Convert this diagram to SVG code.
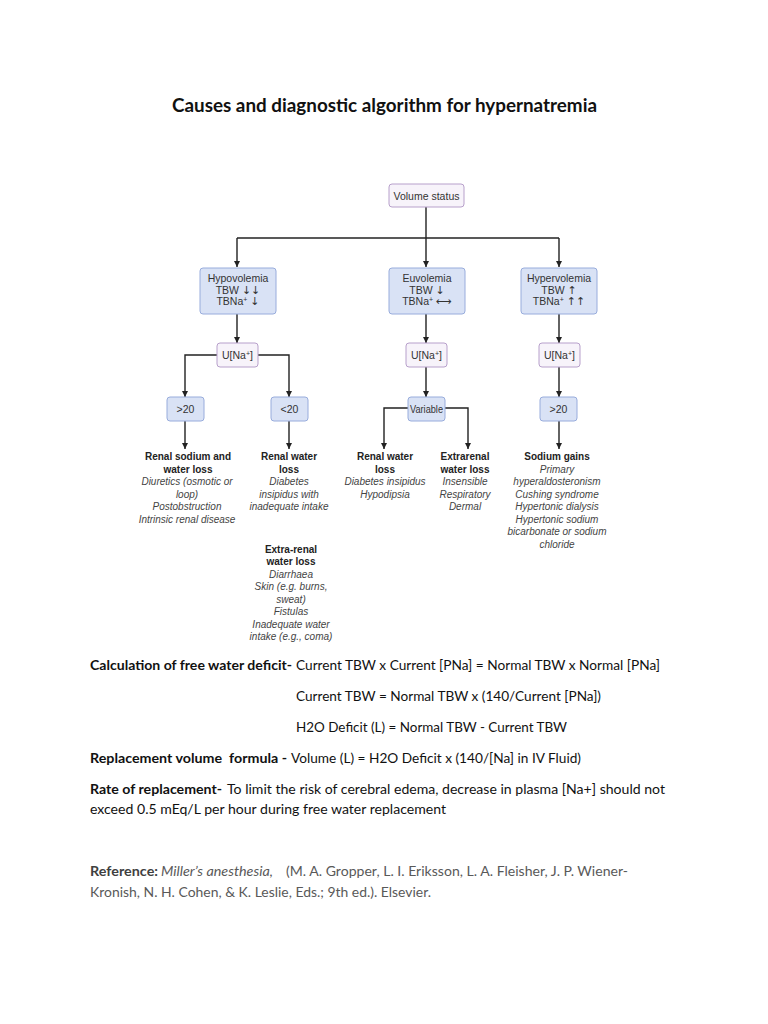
<svg xmlns="http://www.w3.org/2000/svg" width="768" height="1024" viewBox="0 0 768 1024">
<style>
.bg{fill:#ffffff}
.title{font-family:Lato,"Liberation Sans",sans-serif;font-weight:bold;font-size:18px;fill:#111}
.pbox{fill:#f7f3fa;stroke:#b7a0cb;stroke-width:1}
.bbox{fill:#d9e2f5;stroke:#98acdc;stroke-width:1}
.nt{font-family:"Liberation Sans",Arial,sans-serif;font-size:10.5px;fill:#333;text-anchor:middle}
.ar{font-family:"DejaVu Sans",sans-serif;font-size:11px}
.hd{font-family:"Liberation Sans",Arial,sans-serif;font-size:10px;font-weight:bold;fill:#222;text-anchor:middle}
.it{font-family:"Liberation Sans",Arial,sans-serif;font-size:10px;font-style:italic;fill:#444;text-anchor:middle}
.con{fill:none;stroke:#222;stroke-width:1.4}
.b{font-family:Lato,"Liberation Sans",sans-serif;font-size:14px;font-weight:bold;fill:#111}
.r{font-family:Lato,"Liberation Sans",sans-serif;font-size:14px;fill:#111}
.rb{font-family:Lato,"Liberation Sans",sans-serif;font-size:14px;font-weight:bold;fill:#404040}
.rg{font-family:Lato,"Liberation Sans",sans-serif;font-size:14px;fill:#595959}
.sup{font-size:7px}
</style>
<defs>
<marker id="ah" viewBox="0 0 10 10" refX="10" refY="5" markerWidth="6" markerHeight="6" markerUnits="userSpaceOnUse" orient="auto">
<path d="M0,0 L10,5 L0,10 z" fill="#222"/>
</marker>
</defs>
<rect class="bg" x="0" y="0" width="768" height="1024"/>
<text class="title" x="172" y="112" textLength="425" lengthAdjust="spacingAndGlyphs">Causes and diagnostic algorithm for hypernatremia</text>

<g id="connectors">
<path class="con" d="M426,207 V267" marker-end="url(#ah)"/>
<path class="con" d="M237,238 H559"/>
<path class="con" d="M237,238 V267" marker-end="url(#ah)"/>
<path class="con" d="M559,238 V267" marker-end="url(#ah)"/>
<path class="con" d="M237,314 V343" marker-end="url(#ah)"/>
<path class="con" d="M426,314 V343" marker-end="url(#ah)"/>
<path class="con" d="M559,314 V343" marker-end="url(#ah)"/>
<path class="con" d="M217,355 H185 V397" marker-end="url(#ah)"/>
<path class="con" d="M258,355 H289 V397" marker-end="url(#ah)"/>
<path class="con" d="M426,367 V397" marker-end="url(#ah)"/>
<path class="con" d="M559,367 V397" marker-end="url(#ah)"/>
<path class="con" d="M185,421 V449" marker-end="url(#ah)"/>
<path class="con" d="M289,421 V449" marker-end="url(#ah)"/>
<path class="con" d="M408,408 H384 V449" marker-end="url(#ah)"/>
<path class="con" d="M445,408 H468 V449" marker-end="url(#ah)"/>
<path class="con" d="M559,421 V449" marker-end="url(#ah)"/>
</g>

<g id="volume-status">
<rect class="pbox" x="389" y="184" width="75" height="23" rx="3"/>
<text class="nt" x="426.5" y="199.5">Volume status</text>
</g>

<g id="hypovolemia">
<rect class="bbox" x="200" y="268" width="76" height="46" rx="3"/>
<text class="nt" x="238" y="282">Hypovolemia</text>
<text class="nt" x="238" y="293.5">TBW <tspan class="ar">↓↓</tspan></text>
<text class="nt" x="238" y="305">TBNa<tspan class="sup" baseline-shift="super">+</tspan> <tspan class="ar">↓</tspan></text>
</g>
<g id="euvolemia">
<rect class="bbox" x="389" y="268" width="76" height="46" rx="3"/>
<text class="nt" x="427" y="282">Euvolemia</text>
<text class="nt" x="427" y="293.5">TBW <tspan class="ar">↓</tspan></text>
<text class="nt" x="427" y="305">TBNa<tspan class="sup" baseline-shift="super">+</tspan> <tspan class="ar" font-size="9px">⟷</tspan></text>
</g>
<g id="hypervolemia">
<rect class="bbox" x="521" y="268" width="76" height="46" rx="3"/>
<text class="nt" x="559" y="282">Hypervolemia</text>
<text class="nt" x="559" y="293.5">TBW <tspan class="ar">↑</tspan></text>
<text class="nt" x="559" y="305">TBNa<tspan class="sup" baseline-shift="super">+</tspan> <tspan class="ar">↑↑</tspan></text>
</g>

<g id="una-left">
<rect class="pbox" x="217" y="343" width="41" height="24" rx="3"/>
<text class="nt" x="237.5" y="359">U[Na<tspan class="sup" baseline-shift="super">+</tspan>]</text>
</g>
<g id="una-mid">
<rect class="pbox" x="406" y="343" width="41" height="24" rx="3"/>
<text class="nt" x="426.5" y="359">U[Na<tspan class="sup" baseline-shift="super">+</tspan>]</text>
</g>
<g id="una-right">
<rect class="pbox" x="539" y="343" width="41" height="24" rx="3"/>
<text class="nt" x="559.5" y="359">U[Na<tspan class="sup" baseline-shift="super">+</tspan>]</text>
</g>

<g id="gt20-left">
<rect class="bbox" x="167" y="397" width="37" height="24" rx="3"/>
<text class="nt" x="185.5" y="412.5">&gt;20</text>
</g>
<g id="lt20">
<rect class="bbox" x="271" y="397" width="37" height="24" rx="3"/>
<text class="nt" x="289.5" y="412.5">&lt;20</text>
</g>
<g id="variable">
<rect class="bbox" x="408" y="397" width="37" height="24" rx="3"/>
<text class="nt" x="426.5" y="412.5" textLength="33" lengthAdjust="spacingAndGlyphs">Variable</text>
</g>
<g id="gt20-right">
<rect class="bbox" x="540" y="397" width="37" height="24" rx="3"/>
<text class="nt" x="558.5" y="412.5">&gt;20</text>
</g>

<g id="renal-sodium-water-loss">
<text class="hd" x="188" y="460">Renal sodium and</text>
<text class="hd" x="188" y="472.5">water loss</text>
<text class="it" x="187" y="485">Diuretics (osmotic or</text>
<text class="it" x="187" y="497.5">loop)</text>
<text class="it" x="187" y="510">Postobstruction</text>
<text class="it" x="187" y="522.5">Intrinsic renal disease</text>
</g>
<g id="renal-water-loss-hypo">
<text class="hd" x="289" y="460">Renal water</text>
<text class="hd" x="289" y="472.5">loss</text>
<text class="it" x="289" y="485">Diabetes</text>
<text class="it" x="289" y="497.5">insipidus with</text>
<text class="it" x="289" y="510">inadequate intake</text>
</g>
<g id="extra-renal-water-loss">
<text class="hd" x="291" y="552.5">Extra-renal</text>
<text class="hd" x="291" y="565">water loss</text>
<text class="it" x="291" y="577.5">Diarrhaea</text>
<text class="it" x="291" y="590">Skin (e.g. burns,</text>
<text class="it" x="291" y="602.5">sweat)</text>
<text class="it" x="291" y="615">Fistulas</text>
<text class="it" x="291" y="627.5">Inadequate water</text>
<text class="it" x="291" y="640">intake (e.g., coma)</text>
</g>
<g id="renal-water-loss-eu">
<text class="hd" x="385" y="460">Renal water</text>
<text class="hd" x="385" y="472.5">loss</text>
<text class="it" x="385" y="485">Diabetes insipidus</text>
<text class="it" x="385" y="497.5">Hypodipsia</text>
</g>
<g id="extrarenal-water-loss">
<text class="hd" x="465" y="460">Extrarenal</text>
<text class="hd" x="465" y="472.5">water loss</text>
<text class="it" x="465" y="485">Insensible</text>
<text class="it" x="465" y="497.5">Respiratory</text>
<text class="it" x="465" y="510">Dermal</text>
</g>
<g id="sodium-gains">
<text class="hd" x="557" y="460">Sodium gains</text>
<text class="it" x="557" y="472.5">Primary</text>
<text class="it" x="557" y="485">hyperaldosteronism</text>
<text class="it" x="557" y="497.5">Cushing syndrome</text>
<text class="it" x="557" y="510">Hypertonic dialysis</text>
<text class="it" x="557" y="522.5">Hypertonic sodium</text>
<text class="it" x="557" y="535">bicarbonate or sodium</text>
<text class="it" x="557" y="547.5">chloride</text>
</g>

<g id="notes">
<text class="b" x="90" y="670" textLength="202" lengthAdjust="spacingAndGlyphs">Calculation of free water deficit-</text>
<text class="r" x="296" y="670" textLength="364" lengthAdjust="spacingAndGlyphs">Current TBW x Current [PNa] = Normal TBW x Normal [PNa]</text>
<text class="r" x="296" y="701" textLength="305" lengthAdjust="spacingAndGlyphs">Current TBW = Normal TBW x (140/Current [PNa])</text>
<text class="r" x="296" y="732" textLength="271" lengthAdjust="spacingAndGlyphs">H2O Deficit (L) = Normal TBW - Current TBW</text>
<text class="b" x="90" y="763" textLength="197" lengthAdjust="spacingAndGlyphs" xml:space="preserve">Replacement volume  formula -</text>
<text class="r" x="291" y="763" textLength="290" lengthAdjust="spacingAndGlyphs">Volume (L) = H2O Deficit x (140/[Na] in IV Fluid)</text>
<text class="b" x="90" y="794" textLength="132" lengthAdjust="spacingAndGlyphs">Rate of replacement-</text>
<text class="r" x="227" y="794" textLength="438" lengthAdjust="spacingAndGlyphs">To limit the risk of cerebral edema, decrease in plasma [Na+] should not</text>
<text class="r" x="90" y="814" textLength="356" lengthAdjust="spacingAndGlyphs">exceed 0.5 mEq/L per hour during free water replacement</text>
<text class="rb" x="90" y="876" textLength="68" lengthAdjust="spacingAndGlyphs">Reference:</text>
<text class="rg" x="161" y="876" font-style="italic" textLength="112" lengthAdjust="spacingAndGlyphs">Miller’s anesthesia,</text>
<text class="rg" x="286" y="876" textLength="342" lengthAdjust="spacingAndGlyphs">(M. A. Gropper, L. I. Eriksson, L. A. Fleisher, J. P. Wiener-</text>
<text class="rg" x="90" y="897" textLength="341" lengthAdjust="spacingAndGlyphs">Kronish, N. H. Cohen, &amp; K. Leslie, Eds.; 9th ed.). Elsevier.</text>
</g>
</svg>
